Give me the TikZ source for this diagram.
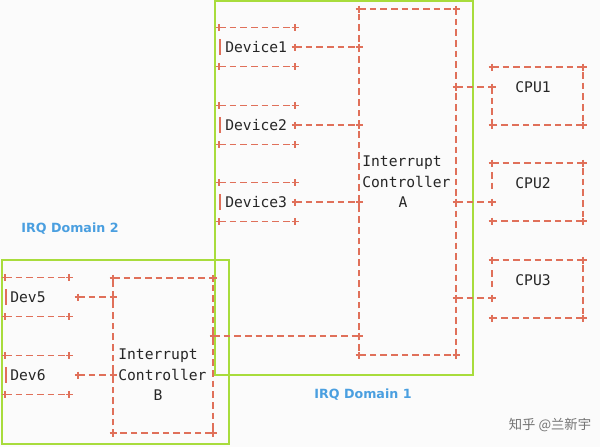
\documentclass[tikz,border=0pt]{standalone}
\usepackage{fontspec}
\setmainfont{DejaVu Sans}
\newfontfamily\monof{DejaVu Sans Mono}
\newfontfamily\cjkf{Noto Sans CJK SC}
\definecolor{orng}{HTML}{E0705A}
\definecolor{grn}{HTML}{A8DC3C}
\definecolor{blu}{HTML}{4A9FE0}
\tikzset{
  dl/.style={orng,line width=1pt,dash pattern=on 5pt off 3pt},
  pl/.pic={\draw[orng,line width=1pt] (-3.5,0)--(3.5,0) (0,-3.5)--(0,3.5);},
  lbl/.style={font=\monof\fontsize{11}{12}\selectfont,text=black!85,inner sep=0pt},
  lbll/.style={lbl,anchor=west},
  dom/.style={grn,line width=1.5pt},
  domlbl/.style={font=\bfseries\fontsize{9.5}{11}\selectfont,text=blu}
}
\begin{document}
\begin{tikzpicture}[x=0.75pt,y=-0.75pt]
\useasboundingbox (0,0) rectangle (600,447);
\fill[white!97!gray] (0,0) rectangle (600,447);
% domains
\draw[dom] (215,1) rectangle (473,375);
\draw[dom] (2,260) rectangle (229,444);
\node[domlbl] (d2) at (70,229) {IRQ Domain 2};
\node[domlbl] (d1) at (363,395) {IRQ Domain 1};
% Controller A
\coordinate (a1) at (359,9); \coordinate (a2) at (456,9);
\coordinate (a3) at (456,355); \coordinate (a4) at (359,355);
\draw[dl] (a1)--(a2)--(a3)--(a4)--cycle;
\foreach \y in {9,47,125,202,336,355} \pic at (359,\y) {pl};
\foreach \y in {9,87,202,298,355} \pic at (456,\y) {pl};
\node[lbll] (ta1) at (362,163) {Interrupt};
\node[lbll] (ta2) at (362,182) {Controller};
\node[lbl] (ta3) at (403,202) {A};
% devices
\foreach \n/\y in {1/47,2/125,3/202}{
  \draw[dl] (219,\y-19.5)--(295,\y-19.5);
  \draw[dl] (219,\y+19.5)--(295,\y+19.5);
  \foreach \yy in {-19.5,19.5}{\pic at (219,\y+\yy) {pl}; \pic at (295,\y+\yy) {pl};}
  \draw[orng,line width=1pt] (220,\y-8)--(220,\y+8);
  \node[lbll] (dev\n) at (225,\y) {Device\n};
  \coordinate (de\n) at (295,\y);
  \coordinate (ae\n) at (359,\y);
  \draw[dl] (de\n)--(ae\n);
  \pic at (295,\y) {pl};
}
% CPUs
\foreach \n/\t/\a in {1/67/87,2/163/202,3/260/298}{
  \draw[dl] (492,\t)--(583,\t)--(583,\t+58)--(492,\t+58);
  \foreach \yy in {0,58}{\pic at (492,\t+\yy) {pl}; \pic at (583,\t+\yy) {pl};}
  \node[lbl] (cpu\n) at (533,\t+20) {CPU\n};
  \coordinate (ca\n) at (456,\a); \coordinate (cb\n) at (492,\a);
  \draw[dl] (ca\n)--(cb\n);
  \pic at (492,\a) {pl};
}
\draw[dl] (492,87)--(492,125);
\draw[dl] (492,172)--(492,193);
\draw[dl] (492,270)--(492,288);
% Controller B
\coordinate (b1) at (113,278); \coordinate (b2) at (213,278);
\coordinate (b3) at (213,433); \coordinate (b4) at (113,433);
\draw[dl] (b1)--(b2)--(b3)--(b4)--cycle;
\foreach \y in {278,297,375,433} \pic at (113,\y) {pl};
\foreach \y in {278,336,433} \pic at (213,\y) {pl};
\node[lbll] (tb1) at (118,356) {Interrupt};
\node[lbll] (tb2) at (118,375) {Controller};
\node[lbl] (tb3) at (158,395) {B};
\coordinate (bo) at (213,336); \coordinate (ai) at (359,336);
\draw[dl] (bo)--(ai);
\foreach \n/\y in {5/297,6/375}{
  \draw[dl] (5,\y-19.5)--(69,\y-19.5);
  \draw[dl] (5,\y+19.5)--(69,\y+19.5);
  \foreach \yy in {-19.5,19.5}{\pic at (5,\y+\yy) {pl}; \pic at (69,\y+\yy) {pl};}
  \draw[orng,line width=1pt] (6,\y-8)--(6,\y+8);
  \node[lbll] (dev\n) at (10,\y) {Dev\n};
  \coordinate (dx\n) at (78,\y); \coordinate (bx\n) at (113,\y);
  \draw[dl] (dx\n)--(bx\n);
  \pic at (78,\y) {pl};
}
\node[font=\cjkf\fontsize{10}{12}\selectfont,text=black!55] (wm) at (550,425) {知乎 @兰新宇};
\end{tikzpicture}
\end{document}
